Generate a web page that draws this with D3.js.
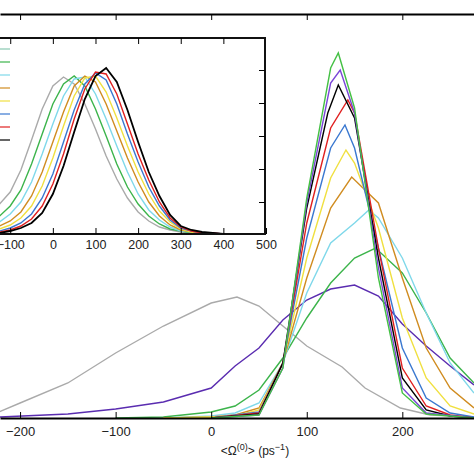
<!DOCTYPE html>
<html><head><meta charset="utf-8">
<script src="https://cdn.jsdelivr.net/npm/d3@7"></script>
<style>body{margin:0;background:#fff}svg{display:block}text{font-family:"Liberation Sans",Arial,sans-serif;fill:#222}</style>
</head><body>
<script>
// main panel series: [x, height]
var grayMain = [[-225,5],[-200,15],[-150,35],[-100,65],[-50,92],[0,115],[27,121],[50,112],[75,92],[100,72],[137,51],[161,30],[198,10],[229,3],[275,1]];
var purpleMain = [[-221,1],[-150,4],[-100,9],[-50,16],[0,30],[25,52],[50,70],[75,98],[100,118],[125,129],[150,133],[175,122],[200,94],[225,72],[250,52],[275,33]];
var greenMain = [[-100,0],[-50,1],[0,6],[25,12],[50,28],[75,60],[100,100],[125,135],[150,160],[172,170],[200,145],[225,105],[250,60],[275,35]];
var cyanMain = [[-50,0],[0,2],[25,5],[50,15],[75,55],[100,125],[125,175],[150,195],[165,208],[175,200],[200,160],[225,105],[250,55],[275,25]];
var orangeMain = [[-50,0],[0,1],[25,3],[50,10],[75,55],[100,140],[125,210],[147,241],[175,215],[200,140],[225,70],[250,30],[275,10]];
var yellowMain = [[-50,0],[0,1],[25,2],[50,8],[75,55],[100,160],[125,240],[141,268],[150,255],[175,190],[200,100],[225,40],[250,12],[275,4]];
var blueMain = [[0,0],[50,6],[75,55],[100,180],[125,270],[140,293],[150,270],[175,170],[200,70],[225,20],[250,5],[275,1]];
var redMain = [[0,0],[50,5],[75,55],[100,195],[125,290],[143,318],[150,305],[175,170],[200,50],[225,12],[250,3],[275,0]];
var blackMain = [[0,0],[50,4],[75,55],[100,210],[122,305],[133,333],[150,300],[175,160],[200,40],[225,8],[250,2],[275,0]];
var violetMain = [[0,0],[50,3],[75,50],[100,215],[125,335],[135,348],[150,305],[175,150],[200,30],[225,5],[275,0]];
var brightMain = [[0,0],[50,3],[75,50],[100,220],[125,350],[133,365],[150,310],[175,140],[200,25],[225,4],[275,0]];
var mainTicks = [-200,-100,0,100,200];

// inset series on a shared grid
var insetX = [-125,-100,-75,-50,-25,0,25,50,75,100,125,150,175,200,225,250,275,300,325,350,375,400,425,450];
var grayIn = [30,42,64,94,125,148,157,150,130,105,78,55,36,22,13,7,4,2,1,0,0,0,0,0];
var greenIn = [18,28,44,70,100,130,150,158,148,125,98,70,47,30,18,10,5,3,1,1,0,0,0,0];
var cyanIn = [12,20,32,52,80,110,138,155,157,140,115,88,62,40,24,14,7,3,2,1,0,0,0,0];
var orangeIn = [8,13,22,38,62,92,122,148,158,152,130,103,76,52,32,18,9,4,2,1,0,0,0,0];
var yellowIn = [5,9,16,28,48,76,108,138,156,158,142,116,88,62,40,23,12,5,2,1,0,0,0,0];
var blueIn = [3,6,11,20,36,60,92,124,150,161,154,130,100,72,47,28,14,6,3,1,1,0,0,0];
var redIn = [2,4,8,15,28,50,80,115,145,162,160,140,110,80,54,32,16,7,3,1,1,0,0,0];
var blackIn = [1,3,6,11,21,40,68,102,135,158,166,152,124,92,62,38,19,8,4,2,1,0,0,0];
var insetTicks = [-100,0,100,200,300,400,500];
var legendColors = ["#88c8b0","#3cb44b","#7fd8ea","#d08c20","#f0e040","#3a78d0","#e02020","#000"];

var svg = d3.select("body").append("svg").attr("width",474).attr("height",474);

var x = d3.scaleLinear().domain([-221,275]).range([0,474]);
var y = d3.scaleLinear().domain([0,404]).range([418,14]);

svg.append("clipPath").attr("id","cm").append("rect").attr("x",0).attr("y",14).attr("width",474).attr("height",404);
var line = d3.line().x(function(d){return x(d[0]);}).y(function(d){return y(d[1]);});
var mainSeries = [[grayMain,"#aaaaaa"],[purpleMain,"#5a2cb0"],[greenMain,"#3cb44b"],[cyanMain,"#7fd8ea"],[orangeMain,"#d08c20"],
    [yellowMain,"#f0e040"],[blueMain,"#3a78d0"],[redMain,"#e02020"],[blackMain,"#000"],[violetMain,"#7a45d8"],[brightMain,"#44c044"]];
var g = svg.append("g").attr("clip-path","url(#cm)");
mainSeries.forEach(function(s){
    g.append("path").datum(s[0]).attr("d",line).attr("fill","none").attr("stroke",s[1]).attr("stroke-width",1.4);
});

var ax = svg.append("g").attr("transform","translate(0,418)")
    .call(d3.axisBottom(x).tickValues(mainTicks).tickSizeInner(-6).tickSizeOuter(0).tickPadding(9).tickFormat(d3.format("")));
ax.select(".domain").attr("stroke-width",2);
ax.selectAll("text").attr("font-size",13);
var at = svg.append("g").attr("transform","translate(0,14)")
    .call(d3.axisTop(x).tickValues(mainTicks).tickSizeInner(-6).tickSizeOuter(0).tickFormat(""));
at.select(".domain").attr("stroke-width",2);
var lab = svg.append("text").attr("x",255).attr("y",455).attr("text-anchor","middle").attr("font-size",12);
lab.append("tspan").text("<Ω");
lab.append("tspan").attr("dy",-5).attr("font-size",9).text("(0)");
lab.append("tspan").attr("dy",5).text("> (ps");
lab.append("tspan").attr("dy",-5).attr("font-size",9).text("−1");
lab.append("tspan").attr("dy",5).text(")");

// inset
var xi = d3.scaleLinear().domain([-124,500]).range([0,266]);
var yi = d3.scaleLinear().domain([0,196]).range([234,38]);
var ig = svg.append("g");
ig.append("rect").attr("x",-2).attr("y",38).attr("width",268).attr("height",196).attr("fill","#fff");
var lineIn = d3.line().x(function(d,i){return xi(insetX[i]);}).y(function(d){return yi(d);});
[grayIn,greenIn,cyanIn,orangeIn,yellowIn,blueIn,redIn,blackIn].forEach(function(s,i){
    var c = i==0 ? "#aaaaaa" : legendColors[i];
    ig.append("path").datum(s).attr("d",lineIn).attr("fill","none").attr("stroke",c).attr("stroke-width",i==7?1.8:1.4);
});
legendColors.forEach(function(c,i){
    ig.append("line").attr("x1",0).attr("x2",10).attr("y1",49+i*13).attr("y2",49+i*13).attr("stroke",c).attr("stroke-width",1.2);
});
ig.append("rect").attr("x",-2).attr("y",38).attr("width",267).attr("height",196).attr("fill","none").attr("stroke","#111").attr("stroke-width",2);
var ib = ig.append("g").attr("transform","translate(0,234)")
    .call(d3.axisBottom(xi).tickValues(insetTicks).tickSizeInner(-6).tickSizeOuter(0).tickPadding(6).tickFormat(function(d){return d<0?"−"+(-d):d;}));
ib.select(".domain").remove();
ib.selectAll("text").attr("font-size",12.5);
var itop = ig.append("g").attr("transform","translate(0,38)")
    .call(d3.axisTop(xi).tickValues(insetTicks.slice(0,6)).tickSizeInner(-6).tickSizeOuter(0).tickFormat(""));
itop.select(".domain").remove();
var ir = ig.append("g").attr("transform","translate(265,0)")
    .call(d3.axisRight(yi).tickValues([32,65,98,131,164]).tickSizeInner(-6).tickSizeOuter(0).tickFormat(""));
ir.select(".domain").remove();
</script>
</body></html>
